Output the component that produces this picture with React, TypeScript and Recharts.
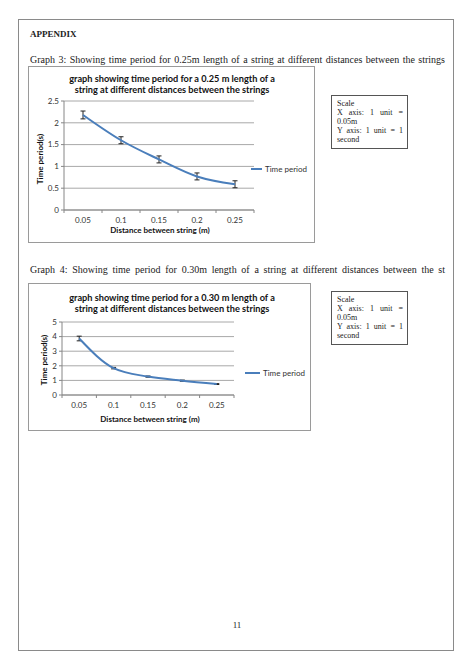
import React from "react";
import { LineChart, Line, XAxis, YAxis, CartesianGrid, ErrorBar, Legend } from "recharts";

const distances = ["0.05", "0.1", "0.15", "0.2", "0.25"];

const period025 = [2.18, 1.6, 1.16, 0.77, 0.59];
const error025 = [0.09, 0.08, 0.08, 0.08, 0.08];
const yTicks025 = [0, 0.5, 1, 1.5, 2, 2.5];

const period030 = [3.87, 1.84, 1.26, 0.98, 0.75];
const error030 = [0.16, 0.05, 0.04, 0.04, 0.03];
const yTicks030 = [0, 1, 2, 3, 4, 5];

const seriesName = "Time period";
const title025 = ["graph showing time period for a 0.25 m length of a", "string at different distances between the strings"];
const title030 = ["graph showing time period for a 0.30 m length of a", "string at different distances between the strings"];
const xTitle = "Distance  between string (m)";
const yTitle = "Time period(s)";

const SANS = "Lato, 'Noto Sans', Arial, sans-serif";
const SERIF = "'Liberation Serif', 'DejaVu Serif', serif";
const LINE = "#4a7ebb";
const AXIS = "#868686";

const makeRows = (vals: number[], errs: number[]) =>
  distances.map((d, i) => ({ d, t: vals[i], err: errs[i] }));

function XTick(props: any) {
  const { x, y, payload, index } = props;
  const half = payload && typeof payload.offset === "number" && payload.offset > 0 ? payload.offset : 19;
  return (
    <g>
      <line x1={x - half} x2={x - half} y1={y} y2={y + 3} stroke={AXIS} />
      {index === distances.length - 1 && (
        <line x1={x + half} x2={x + half} y1={y} y2={y + 3} stroke={AXIS} />
      )}
      <text x={x} y={y + 10} textAnchor="middle" dominantBaseline="central" fontSize={8} fill="#333" fontFamily={SANS}>
        {payload.value}
      </text>
    </g>
  );
}

function LegendBox({ width }: { width: number }) {
  return (
    <div style={{ width, height: 12, display: "flex", alignItems: "center", fontFamily: SANS, fontSize: 8, color: "#333", whiteSpace: "nowrap" }}>
      <svg width={15} height={12} style={{ display: "block", marginRight: 3 }}>
        <line x1={0} x2={15} y1={6} y2={6} stroke={LINE} strokeWidth={2} />
      </svg>
      <span>{seriesName}</span>
    </div>
  );
}

type GraphProps = {
  width: number;
  height: number;
  rows: { d: string; t: number; err: number }[];
  yTicks: number[];
  title: string[];
  margin: { top: number; right: number; bottom: number; left: number };
  legendWidth: number;
  legendPos: { left: number; top: number };
  titleY: [number, number];
  titleX: number;
  yLabel: { x: number; y: number };
  xLabel: { x: number; y: number };
};

function Graph(p: GraphProps) {
  const yMax = p.yTicks[p.yTicks.length - 1];
  return (
    <LineChart width={p.width} height={p.height} data={p.rows} margin={p.margin}>
      <CartesianGrid vertical={false} stroke="#a8a8a8" strokeWidth={1} />
      <XAxis
        dataKey="d"
        scale="band"
        interval={0}
        height={20}
        tickLine={false}
        tickSize={0}
        tickMargin={0}
        axisLine={{ stroke: AXIS }}
        tick={(tp: any) => <XTick {...tp} />}
      />
      <YAxis
        domain={[0, yMax]}
        ticks={p.yTicks}
        interval={0}
        width={22}
        tickSize={3}
        tickMargin={2}
        axisLine={{ stroke: AXIS }}
        tickLine={{ stroke: AXIS }}
        tick={{ fontSize: 8, fill: "#333", fontFamily: SANS }}
      />
      <Legend
        layout="vertical"
        align="right"
        verticalAlign="middle"
        wrapperStyle={{ left: p.legendPos.left, top: p.legendPos.top }}
        content={() => <LegendBox width={p.legendWidth} />}
      />
      <Line
        type="monotone"
        dataKey="t"
        name={seriesName}
        stroke={LINE}
        strokeWidth={2}
        dot={false}
        activeDot={false}
        isAnimationActive={false}
      >
        <ErrorBar dataKey="err" direction="y" width={2.5} stroke="#222" strokeWidth={1} isAnimationActive={false} />
      </Line>
      <text x={p.titleX} y={p.titleY[0]} textAnchor="middle" fontFamily={SANS} fontWeight="bold" fontSize={9.2} fill="#111">
        {p.title[0]}
      </text>
      <text x={p.titleX} y={p.titleY[1]} textAnchor="middle" fontFamily={SANS} fontWeight="bold" fontSize={9.2} fill="#111">
        {p.title[1]}
      </text>
      <text
        x={p.yLabel.x}
        y={p.yLabel.y}
        textAnchor="middle"
        dominantBaseline="central"
        transform={`rotate(-90 ${p.yLabel.x} ${p.yLabel.y})`}
        fontFamily={SANS}
        fontWeight="bold"
        fontSize={8}
        fill="#111"
      >
        {yTitle}
      </text>
      <text x={p.xLabel.x} y={p.xLabel.y} textAnchor="middle" fontFamily={SANS} fontWeight="bold" fontSize={8} fill="#111">
        {xTitle}
      </text>
    </LineChart>
  );
}

function ScaleBox({ top }: { top: number }) {
  const line: React.CSSProperties = { height: 9, lineHeight: "9px", whiteSpace: "nowrap" };
  const just: React.CSSProperties = { ...line, textAlign: "justify", textAlignLast: "justify" as any, whiteSpace: "normal" };
  return (
    <div
      style={{
        position: "absolute",
        left: 331,
        top,
        width: 77,
        height: 54,
        boxSizing: "border-box",
        border: "1px solid #555",
        padding: "3px 4px 0 5px",
        fontFamily: SERIF,
        fontSize: 8,
        color: "#222",
      }}
    >
      <div style={line}>Scale</div>
      <div style={just}>X axis: 1 unit =</div>
      <div style={line}>0.05m</div>
      <div style={just}>Y axis: 1 unit = 1</div>
      <div style={line}>second</div>
    </div>
  );
}

const caption: React.CSSProperties = {
  position: "absolute",
  left: 30,
  width: 415,
  fontFamily: SERIF,
  fontSize: 10,
  lineHeight: "11px",
  color: "#222",
  textAlign: "justify",
  textAlignLast: "justify" as any,
  whiteSpace: "normal",
};

export default function App() {
  return (
    <div style={{ position: "absolute", left: 0, top: 0, width: 474, height: 670, background: "#fff", overflow: "hidden" }}>
      <div style={{ position: "absolute", left: 18, top: 19, width: 436, height: 632, boxSizing: "border-box", border: "1.5px solid #8a8a8a" }} />
      <div style={{ position: "absolute", left: 30, top: 29, fontFamily: SERIF, fontWeight: "bold", fontSize: 9, lineHeight: "10px", color: "#222" }}>
        APPENDIX
      </div>
      <div style={{ ...caption, top: 54 }}>
        Graph 3: Showing time period for 0.25m length of a string at different distances between the strings
      </div>
      <div style={{ position: "absolute", left: 28, top: 66, width: 287, height: 177, boxSizing: "border-box", border: "1px solid #9a9a9a", background: "#fff" }}>
        <Graph
          width={285}
          height={175}
          rows={makeRows(period025, error025)}
          yTicks={yTicks025}
          title={title025}
          margin={{ top: 34, right: 4, bottom: 12, left: 13 }}
          legendWidth={56}
          legendPos={{ left: 222, top: 96 }}
          titleX={143}
          titleY={[15, 26]}
          yLabel={{ x: 11, y: 92 }}
          xLabel={{ x: 131, y: 166 }}
        />
      </div>
      <ScaleBox top={95} />

      <div style={{ ...caption, top: 264 }}>
        Graph 4: Showing time period for 0.30m length of a string at different distances between the st
      </div>
      <div style={{ position: "absolute", left: 28, top: 283, width: 283, height: 148, boxSizing: "border-box", border: "1px solid #9a9a9a", background: "#fff" }}>
        <Graph
          width={281}
          height={146}
          rows={makeRows(period030, error030)}
          yTicks={yTicks030}
          title={title030}
          margin={{ top: 38, right: 5, bottom: 15, left: 11 }}
          legendWidth={71}
          legendPos={{ left: 216, top: 83 }}
          titleX={143}
          titleY={[17, 28]}
          yLabel={{ x: 15, y: 76 }}
          xLabel={{ x: 121, y: 138 }}
        />
      </div>
      <ScaleBox top={291} />

      <div style={{ position: "absolute", left: 227, top: 620, width: 20, textAlign: "center", fontFamily: SERIF, fontSize: 9, lineHeight: "10px", color: "#222" }}>
        11
      </div>
    </div>
  );
}
